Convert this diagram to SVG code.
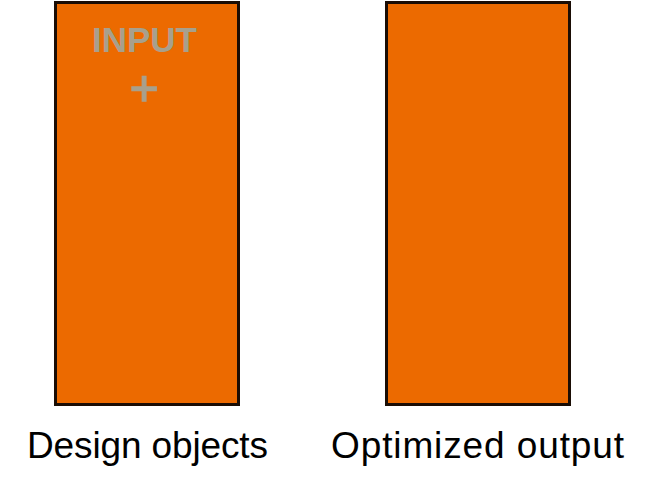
<svg xmlns="http://www.w3.org/2000/svg" width="650" height="495" viewBox="0 0 650 495">
<style>
.box{fill:#EC6A00;stroke:#1a0d05;stroke-width:3}
.lbl{font-family:"Liberation Sans",Arial,sans-serif;font-size:37px;fill:#000;text-anchor:middle}
.in{font-family:"Liberation Sans",Arial,sans-serif;font-weight:bold;fill:#A8A08C;text-anchor:middle}
.plus{font-family:"Liberation Sans",Arial,sans-serif;font-weight:normal;font-size:50px;fill:#A8A08C;stroke:#A8A08C;stroke-width:1.3;text-anchor:middle}
</style>
<rect width="650" height="495" fill="#fff"/>
<g id="design">
<rect class="box" x="55.5" y="2.5" width="183" height="402"/>
<text class="in" x="144.5" y="52" font-size="35">INPUT</text>
<text class="plus" x="144" y="105">+</text>
</g>
<g id="optimized">
<rect class="box" x="386.5" y="2.5" width="183" height="402"/>
</g>
<g id="connectors"/>
<text class="lbl" x="147.5" y="458" textLength="241">Design objects</text>
<text class="lbl" x="477.5" y="458" textLength="293">Optimized output</text>
</svg>
